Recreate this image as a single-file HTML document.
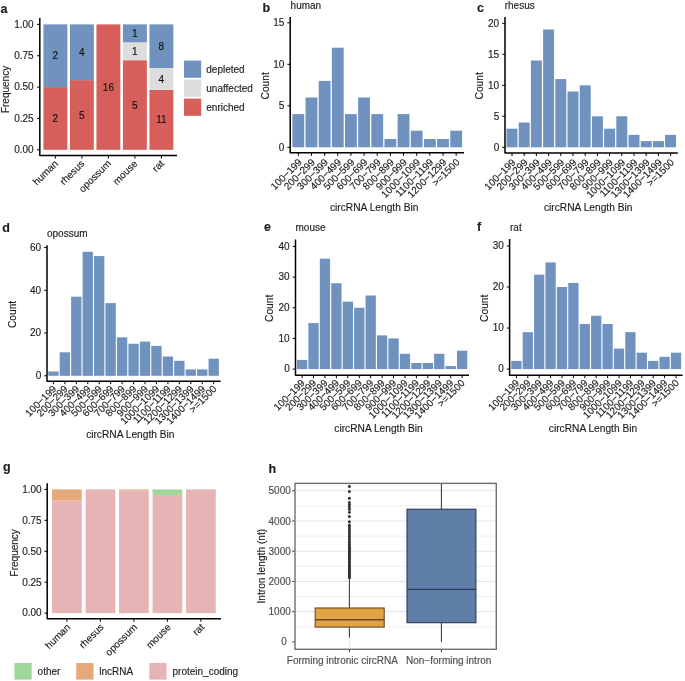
<!DOCTYPE html>
<html><head><meta charset="utf-8"><style>
html,body{margin:0;padding:0;background:#fff;width:685px;height:681px;overflow:hidden;}
svg{display:block;font-family:"Liberation Sans", sans-serif;will-change:transform;}
</style></head><body>
<svg width="685" height="681" viewBox="0 0 685 681" font-family='"Liberation Sans", sans-serif'>
<rect width="685" height="681" fill="#fff"/>
<text x="0.40" y="13.00" text-anchor="start" font-size="12.5" font-weight="bold" fill="#1e1e1e" stroke="#1e1e1e" stroke-width="0.15">a</text>
<rect x="43.45" y="87.10" width="23.90" height="62.70" fill="#d65f5c"/>
<rect x="43.45" y="24.40" width="23.90" height="62.70" fill="#6f92bf"/>
<rect x="69.95" y="80.13" width="23.90" height="69.67" fill="#d65f5c"/>
<rect x="69.95" y="24.40" width="23.90" height="55.73" fill="#6f92bf"/>
<rect x="96.45" y="24.40" width="23.90" height="125.40" fill="#d65f5c"/>
<rect x="122.95" y="60.23" width="23.90" height="89.57" fill="#d65f5c"/>
<rect x="122.95" y="42.31" width="23.90" height="17.91" fill="#dddddd"/>
<rect x="122.95" y="24.40" width="23.90" height="17.91" fill="#6f92bf"/>
<rect x="149.45" y="89.83" width="23.90" height="59.97" fill="#d65f5c"/>
<rect x="149.45" y="68.02" width="23.90" height="21.81" fill="#dddddd"/>
<rect x="149.45" y="24.40" width="23.90" height="43.62" fill="#6f92bf"/>
<text x="55.40" y="122.03" text-anchor="middle" font-size="10.0" font-weight="normal" fill="#111" stroke="#111" stroke-width="0.15">2</text>
<text x="55.40" y="59.33" text-anchor="middle" font-size="10.0" font-weight="normal" fill="#111" stroke="#111" stroke-width="0.15">2</text>
<text x="81.90" y="118.55" text-anchor="middle" font-size="10.0" font-weight="normal" fill="#111" stroke="#111" stroke-width="0.15">5</text>
<text x="81.90" y="55.85" text-anchor="middle" font-size="10.0" font-weight="normal" fill="#111" stroke="#111" stroke-width="0.15">4</text>
<text x="108.40" y="90.68" text-anchor="middle" font-size="10.0" font-weight="normal" fill="#111" stroke="#111" stroke-width="0.15">16</text>
<text x="134.90" y="108.59" text-anchor="middle" font-size="10.0" font-weight="normal" fill="#111" stroke="#111" stroke-width="0.15">5</text>
<text x="134.90" y="54.85" text-anchor="middle" font-size="10.0" font-weight="normal" fill="#111" stroke="#111" stroke-width="0.15">1</text>
<text x="134.90" y="36.94" text-anchor="middle" font-size="10.0" font-weight="normal" fill="#111" stroke="#111" stroke-width="0.15">1</text>
<text x="161.40" y="123.39" text-anchor="middle" font-size="10.0" font-weight="normal" fill="#111" stroke="#111" stroke-width="0.15">11</text>
<text x="161.40" y="82.50" text-anchor="middle" font-size="10.0" font-weight="normal" fill="#111" stroke="#111" stroke-width="0.15">4</text>
<text x="161.40" y="49.79" text-anchor="middle" font-size="10.0" font-weight="normal" fill="#111" stroke="#111" stroke-width="0.15">8</text>
<path d="M39.80,18.00 L39.80,155.60 L177.00,155.60" stroke="#000" stroke-width="1.5" fill="none" stroke-linejoin="round" stroke-linecap="butt"/>
<line x1="37.00" y1="149.80" x2="39.80" y2="149.80" stroke="#000" stroke-width="1.0" stroke-linecap="butt"/>
<text x="33.60" y="153.18" text-anchor="end" font-size="10.0" font-weight="normal" fill="#1e1e1e" stroke="#1e1e1e" stroke-width="0.15">0.00</text>
<line x1="37.00" y1="118.45" x2="39.80" y2="118.45" stroke="#000" stroke-width="1.0" stroke-linecap="butt"/>
<text x="33.60" y="121.83" text-anchor="end" font-size="10.0" font-weight="normal" fill="#1e1e1e" stroke="#1e1e1e" stroke-width="0.15">0.25</text>
<line x1="37.00" y1="87.10" x2="39.80" y2="87.10" stroke="#000" stroke-width="1.0" stroke-linecap="butt"/>
<text x="33.60" y="90.48" text-anchor="end" font-size="10.0" font-weight="normal" fill="#1e1e1e" stroke="#1e1e1e" stroke-width="0.15">0.50</text>
<line x1="37.00" y1="55.75" x2="39.80" y2="55.75" stroke="#000" stroke-width="1.0" stroke-linecap="butt"/>
<text x="33.60" y="59.13" text-anchor="end" font-size="10.0" font-weight="normal" fill="#1e1e1e" stroke="#1e1e1e" stroke-width="0.15">0.75</text>
<line x1="37.00" y1="24.40" x2="39.80" y2="24.40" stroke="#000" stroke-width="1.0" stroke-linecap="butt"/>
<text x="33.60" y="27.78" text-anchor="end" font-size="10.0" font-weight="normal" fill="#1e1e1e" stroke="#1e1e1e" stroke-width="0.15">1.00</text>
<line x1="55.40" y1="155.60" x2="55.40" y2="158.60" stroke="#000" stroke-width="1.0" stroke-linecap="butt"/>
<text transform="translate(58.60,164.20) rotate(-45)" text-anchor="end" font-size="10.0" fill="#1e1e1e" stroke="#1e1e1e" stroke-width="0.15">human</text>
<line x1="81.90" y1="155.60" x2="81.90" y2="158.60" stroke="#000" stroke-width="1.0" stroke-linecap="butt"/>
<text transform="translate(85.10,164.20) rotate(-45)" text-anchor="end" font-size="10.0" fill="#1e1e1e" stroke="#1e1e1e" stroke-width="0.15">rhesus</text>
<line x1="108.40" y1="155.60" x2="108.40" y2="158.60" stroke="#000" stroke-width="1.0" stroke-linecap="butt"/>
<text transform="translate(111.60,164.20) rotate(-45)" text-anchor="end" font-size="10.0" fill="#1e1e1e" stroke="#1e1e1e" stroke-width="0.15">opossum</text>
<line x1="134.90" y1="155.60" x2="134.90" y2="158.60" stroke="#000" stroke-width="1.0" stroke-linecap="butt"/>
<text transform="translate(138.10,164.20) rotate(-45)" text-anchor="end" font-size="10.0" fill="#1e1e1e" stroke="#1e1e1e" stroke-width="0.15">mouse</text>
<line x1="161.40" y1="155.60" x2="161.40" y2="158.60" stroke="#000" stroke-width="1.0" stroke-linecap="butt"/>
<text transform="translate(164.60,164.20) rotate(-45)" text-anchor="end" font-size="10.0" fill="#1e1e1e" stroke="#1e1e1e" stroke-width="0.15">rat</text>
<text x="8.60" y="89.50" text-anchor="middle" font-size="10.0" font-weight="normal" fill="#1e1e1e" stroke="#1e1e1e" stroke-width="0.15" transform="rotate(-90 8.60 89.50)">Frequency</text>
<rect x="184.00" y="60.60" width="17.20" height="17.20" fill="#6f92bf"/>
<text x="206.30" y="72.90" text-anchor="start" font-size="10.0" font-weight="normal" fill="#1e1e1e" stroke="#1e1e1e" stroke-width="0.15">depleted</text>
<rect x="184.00" y="79.60" width="17.20" height="17.20" fill="#dddddd"/>
<text x="206.30" y="91.90" text-anchor="start" font-size="10.0" font-weight="normal" fill="#1e1e1e" stroke="#1e1e1e" stroke-width="0.15">unaffected</text>
<rect x="184.00" y="98.60" width="17.20" height="17.20" fill="#d65f5c"/>
<text x="206.30" y="110.90" text-anchor="start" font-size="10.0" font-weight="normal" fill="#1e1e1e" stroke="#1e1e1e" stroke-width="0.15">enriched</text>
<text x="262.40" y="12.30" text-anchor="start" font-size="12.5" font-weight="bold" fill="#1e1e1e" stroke="#1e1e1e" stroke-width="0.15">b</text>
<text x="290.60" y="8.80" text-anchor="start" font-size="10.0" font-weight="normal" fill="#1e1e1e" stroke="#1e1e1e" stroke-width="0.15">human</text>
<rect x="292.38" y="114.10" width="11.84" height="33.20" fill="#6f92bf"/>
<rect x="305.54" y="97.50" width="11.84" height="49.80" fill="#6f92bf"/>
<rect x="318.69" y="80.90" width="11.84" height="66.40" fill="#6f92bf"/>
<rect x="331.85" y="47.70" width="11.84" height="99.60" fill="#6f92bf"/>
<rect x="345.00" y="114.10" width="11.84" height="33.20" fill="#6f92bf"/>
<rect x="358.16" y="97.50" width="11.84" height="49.80" fill="#6f92bf"/>
<rect x="371.31" y="114.10" width="11.84" height="33.20" fill="#6f92bf"/>
<rect x="384.47" y="139.00" width="11.84" height="8.30" fill="#6f92bf"/>
<rect x="397.62" y="114.10" width="11.84" height="33.20" fill="#6f92bf"/>
<rect x="410.78" y="130.70" width="11.84" height="16.60" fill="#6f92bf"/>
<rect x="423.93" y="139.00" width="11.84" height="8.30" fill="#6f92bf"/>
<rect x="437.09" y="139.00" width="11.84" height="8.30" fill="#6f92bf"/>
<rect x="450.24" y="130.70" width="11.84" height="16.60" fill="#6f92bf"/>
<path d="M290.20,17.00 L290.20,152.80 L464.00,152.80" stroke="#000" stroke-width="1.5" fill="none" stroke-linejoin="round" stroke-linecap="butt"/>
<line x1="287.40" y1="147.30" x2="290.20" y2="147.30" stroke="#000" stroke-width="1.0" stroke-linecap="butt"/>
<text x="284.40" y="150.68" text-anchor="end" font-size="10.0" font-weight="normal" fill="#1e1e1e" stroke="#1e1e1e" stroke-width="0.15">0</text>
<line x1="287.40" y1="105.80" x2="290.20" y2="105.80" stroke="#000" stroke-width="1.0" stroke-linecap="butt"/>
<text x="284.40" y="109.18" text-anchor="end" font-size="10.0" font-weight="normal" fill="#1e1e1e" stroke="#1e1e1e" stroke-width="0.15">5</text>
<line x1="287.40" y1="64.30" x2="290.20" y2="64.30" stroke="#000" stroke-width="1.0" stroke-linecap="butt"/>
<text x="284.40" y="67.68" text-anchor="end" font-size="10.0" font-weight="normal" fill="#1e1e1e" stroke="#1e1e1e" stroke-width="0.15">10</text>
<line x1="287.40" y1="22.80" x2="290.20" y2="22.80" stroke="#000" stroke-width="1.0" stroke-linecap="butt"/>
<text x="284.40" y="26.18" text-anchor="end" font-size="10.0" font-weight="normal" fill="#1e1e1e" stroke="#1e1e1e" stroke-width="0.15">15</text>
<line x1="298.30" y1="152.80" x2="298.30" y2="155.80" stroke="#000" stroke-width="1.0" stroke-linecap="butt"/>
<text transform="translate(302.50,162.80) rotate(-45)" text-anchor="end" font-size="10.0" fill="#1e1e1e" stroke="#1e1e1e" stroke-width="0.15">100−199</text>
<line x1="311.45" y1="152.80" x2="311.45" y2="155.80" stroke="#000" stroke-width="1.0" stroke-linecap="butt"/>
<text transform="translate(315.65,162.80) rotate(-45)" text-anchor="end" font-size="10.0" fill="#1e1e1e" stroke="#1e1e1e" stroke-width="0.15">200−299</text>
<line x1="324.61" y1="152.80" x2="324.61" y2="155.80" stroke="#000" stroke-width="1.0" stroke-linecap="butt"/>
<text transform="translate(328.81,162.80) rotate(-45)" text-anchor="end" font-size="10.0" fill="#1e1e1e" stroke="#1e1e1e" stroke-width="0.15">300−399</text>
<line x1="337.76" y1="152.80" x2="337.76" y2="155.80" stroke="#000" stroke-width="1.0" stroke-linecap="butt"/>
<text transform="translate(341.96,162.80) rotate(-45)" text-anchor="end" font-size="10.0" fill="#1e1e1e" stroke="#1e1e1e" stroke-width="0.15">400−499</text>
<line x1="350.92" y1="152.80" x2="350.92" y2="155.80" stroke="#000" stroke-width="1.0" stroke-linecap="butt"/>
<text transform="translate(355.12,162.80) rotate(-45)" text-anchor="end" font-size="10.0" fill="#1e1e1e" stroke="#1e1e1e" stroke-width="0.15">500−599</text>
<line x1="364.07" y1="152.80" x2="364.07" y2="155.80" stroke="#000" stroke-width="1.0" stroke-linecap="butt"/>
<text transform="translate(368.27,162.80) rotate(-45)" text-anchor="end" font-size="10.0" fill="#1e1e1e" stroke="#1e1e1e" stroke-width="0.15">600−699</text>
<line x1="377.23" y1="152.80" x2="377.23" y2="155.80" stroke="#000" stroke-width="1.0" stroke-linecap="butt"/>
<text transform="translate(381.43,162.80) rotate(-45)" text-anchor="end" font-size="10.0" fill="#1e1e1e" stroke="#1e1e1e" stroke-width="0.15">700−799</text>
<line x1="390.38" y1="152.80" x2="390.38" y2="155.80" stroke="#000" stroke-width="1.0" stroke-linecap="butt"/>
<text transform="translate(394.58,162.80) rotate(-45)" text-anchor="end" font-size="10.0" fill="#1e1e1e" stroke="#1e1e1e" stroke-width="0.15">800−899</text>
<line x1="403.54" y1="152.80" x2="403.54" y2="155.80" stroke="#000" stroke-width="1.0" stroke-linecap="butt"/>
<text transform="translate(407.74,162.80) rotate(-45)" text-anchor="end" font-size="10.0" fill="#1e1e1e" stroke="#1e1e1e" stroke-width="0.15">900−999</text>
<line x1="416.69" y1="152.80" x2="416.69" y2="155.80" stroke="#000" stroke-width="1.0" stroke-linecap="butt"/>
<text transform="translate(420.89,162.80) rotate(-45)" text-anchor="end" font-size="10.0" fill="#1e1e1e" stroke="#1e1e1e" stroke-width="0.15">1000−1099</text>
<line x1="429.85" y1="152.80" x2="429.85" y2="155.80" stroke="#000" stroke-width="1.0" stroke-linecap="butt"/>
<text transform="translate(434.05,162.80) rotate(-45)" text-anchor="end" font-size="10.0" fill="#1e1e1e" stroke="#1e1e1e" stroke-width="0.15">1100−1199</text>
<line x1="443.00" y1="152.80" x2="443.00" y2="155.80" stroke="#000" stroke-width="1.0" stroke-linecap="butt"/>
<text transform="translate(447.20,162.80) rotate(-45)" text-anchor="end" font-size="10.0" fill="#1e1e1e" stroke="#1e1e1e" stroke-width="0.15">1200−1299</text>
<line x1="456.16" y1="152.80" x2="456.16" y2="155.80" stroke="#000" stroke-width="1.0" stroke-linecap="butt"/>
<text transform="translate(460.36,162.80) rotate(-45)" text-anchor="end" font-size="10.0" fill="#1e1e1e" stroke="#1e1e1e" stroke-width="0.15">&gt;=1500</text>
<text x="268.90" y="85.80" text-anchor="middle" font-size="10.2" font-weight="normal" fill="#1e1e1e" stroke="#1e1e1e" stroke-width="0.15" transform="rotate(-90 268.90 85.80)">Count</text>
<text x="374.20" y="211.20" text-anchor="middle" font-size="10.2" font-weight="normal" fill="#1e1e1e" stroke="#1e1e1e" stroke-width="0.15">circRNA Length Bin</text>
<text x="477.00" y="12.30" text-anchor="start" font-size="12.5" font-weight="bold" fill="#1e1e1e" stroke="#1e1e1e" stroke-width="0.15">c</text>
<text x="504.70" y="8.80" text-anchor="start" font-size="10.0" font-weight="normal" fill="#1e1e1e" stroke="#1e1e1e" stroke-width="0.15">rhesus</text>
<rect x="506.51" y="128.70" width="10.98" height="18.60" fill="#6f92bf"/>
<rect x="518.71" y="122.50" width="10.98" height="24.80" fill="#6f92bf"/>
<rect x="530.91" y="60.50" width="10.98" height="86.80" fill="#6f92bf"/>
<rect x="543.11" y="29.50" width="10.98" height="117.80" fill="#6f92bf"/>
<rect x="555.31" y="79.10" width="10.98" height="68.20" fill="#6f92bf"/>
<rect x="567.51" y="91.50" width="10.98" height="55.80" fill="#6f92bf"/>
<rect x="579.71" y="85.30" width="10.98" height="62.00" fill="#6f92bf"/>
<rect x="591.91" y="116.30" width="10.98" height="31.00" fill="#6f92bf"/>
<rect x="604.11" y="128.70" width="10.98" height="18.60" fill="#6f92bf"/>
<rect x="616.31" y="116.30" width="10.98" height="31.00" fill="#6f92bf"/>
<rect x="628.51" y="134.90" width="10.98" height="12.40" fill="#6f92bf"/>
<rect x="640.71" y="141.10" width="10.98" height="6.20" fill="#6f92bf"/>
<rect x="652.91" y="141.10" width="10.98" height="6.20" fill="#6f92bf"/>
<rect x="665.11" y="134.90" width="10.98" height="12.40" fill="#6f92bf"/>
<path d="M505.00,17.00 L505.00,153.00 L677.80,153.00" stroke="#000" stroke-width="1.5" fill="none" stroke-linejoin="round" stroke-linecap="butt"/>
<line x1="502.20" y1="147.30" x2="505.00" y2="147.30" stroke="#000" stroke-width="1.0" stroke-linecap="butt"/>
<text x="499.20" y="150.68" text-anchor="end" font-size="10.0" font-weight="normal" fill="#1e1e1e" stroke="#1e1e1e" stroke-width="0.15">0</text>
<line x1="502.20" y1="116.30" x2="505.00" y2="116.30" stroke="#000" stroke-width="1.0" stroke-linecap="butt"/>
<text x="499.20" y="119.68" text-anchor="end" font-size="10.0" font-weight="normal" fill="#1e1e1e" stroke="#1e1e1e" stroke-width="0.15">5</text>
<line x1="502.20" y1="85.30" x2="505.00" y2="85.30" stroke="#000" stroke-width="1.0" stroke-linecap="butt"/>
<text x="499.20" y="88.68" text-anchor="end" font-size="10.0" font-weight="normal" fill="#1e1e1e" stroke="#1e1e1e" stroke-width="0.15">10</text>
<line x1="502.20" y1="54.30" x2="505.00" y2="54.30" stroke="#000" stroke-width="1.0" stroke-linecap="butt"/>
<text x="499.20" y="57.68" text-anchor="end" font-size="10.0" font-weight="normal" fill="#1e1e1e" stroke="#1e1e1e" stroke-width="0.15">15</text>
<line x1="502.20" y1="23.30" x2="505.00" y2="23.30" stroke="#000" stroke-width="1.0" stroke-linecap="butt"/>
<text x="499.20" y="26.68" text-anchor="end" font-size="10.0" font-weight="normal" fill="#1e1e1e" stroke="#1e1e1e" stroke-width="0.15">20</text>
<line x1="512.00" y1="153.00" x2="512.00" y2="156.00" stroke="#000" stroke-width="1.0" stroke-linecap="butt"/>
<text transform="translate(516.20,163.00) rotate(-45)" text-anchor="end" font-size="10.0" fill="#1e1e1e" stroke="#1e1e1e" stroke-width="0.15">100−199</text>
<line x1="524.20" y1="153.00" x2="524.20" y2="156.00" stroke="#000" stroke-width="1.0" stroke-linecap="butt"/>
<text transform="translate(528.40,163.00) rotate(-45)" text-anchor="end" font-size="10.0" fill="#1e1e1e" stroke="#1e1e1e" stroke-width="0.15">200−299</text>
<line x1="536.40" y1="153.00" x2="536.40" y2="156.00" stroke="#000" stroke-width="1.0" stroke-linecap="butt"/>
<text transform="translate(540.60,163.00) rotate(-45)" text-anchor="end" font-size="10.0" fill="#1e1e1e" stroke="#1e1e1e" stroke-width="0.15">300−399</text>
<line x1="548.60" y1="153.00" x2="548.60" y2="156.00" stroke="#000" stroke-width="1.0" stroke-linecap="butt"/>
<text transform="translate(552.80,163.00) rotate(-45)" text-anchor="end" font-size="10.0" fill="#1e1e1e" stroke="#1e1e1e" stroke-width="0.15">400−499</text>
<line x1="560.80" y1="153.00" x2="560.80" y2="156.00" stroke="#000" stroke-width="1.0" stroke-linecap="butt"/>
<text transform="translate(565.00,163.00) rotate(-45)" text-anchor="end" font-size="10.0" fill="#1e1e1e" stroke="#1e1e1e" stroke-width="0.15">500−599</text>
<line x1="573.00" y1="153.00" x2="573.00" y2="156.00" stroke="#000" stroke-width="1.0" stroke-linecap="butt"/>
<text transform="translate(577.20,163.00) rotate(-45)" text-anchor="end" font-size="10.0" fill="#1e1e1e" stroke="#1e1e1e" stroke-width="0.15">600−699</text>
<line x1="585.20" y1="153.00" x2="585.20" y2="156.00" stroke="#000" stroke-width="1.0" stroke-linecap="butt"/>
<text transform="translate(589.40,163.00) rotate(-45)" text-anchor="end" font-size="10.0" fill="#1e1e1e" stroke="#1e1e1e" stroke-width="0.15">700−799</text>
<line x1="597.40" y1="153.00" x2="597.40" y2="156.00" stroke="#000" stroke-width="1.0" stroke-linecap="butt"/>
<text transform="translate(601.60,163.00) rotate(-45)" text-anchor="end" font-size="10.0" fill="#1e1e1e" stroke="#1e1e1e" stroke-width="0.15">800−899</text>
<line x1="609.60" y1="153.00" x2="609.60" y2="156.00" stroke="#000" stroke-width="1.0" stroke-linecap="butt"/>
<text transform="translate(613.80,163.00) rotate(-45)" text-anchor="end" font-size="10.0" fill="#1e1e1e" stroke="#1e1e1e" stroke-width="0.15">900−999</text>
<line x1="621.80" y1="153.00" x2="621.80" y2="156.00" stroke="#000" stroke-width="1.0" stroke-linecap="butt"/>
<text transform="translate(626.00,163.00) rotate(-45)" text-anchor="end" font-size="10.0" fill="#1e1e1e" stroke="#1e1e1e" stroke-width="0.15">1000−1099</text>
<line x1="634.00" y1="153.00" x2="634.00" y2="156.00" stroke="#000" stroke-width="1.0" stroke-linecap="butt"/>
<text transform="translate(638.20,163.00) rotate(-45)" text-anchor="end" font-size="10.0" fill="#1e1e1e" stroke="#1e1e1e" stroke-width="0.15">1100−1199</text>
<line x1="646.20" y1="153.00" x2="646.20" y2="156.00" stroke="#000" stroke-width="1.0" stroke-linecap="butt"/>
<text transform="translate(650.40,163.00) rotate(-45)" text-anchor="end" font-size="10.0" fill="#1e1e1e" stroke="#1e1e1e" stroke-width="0.15">1300−1399</text>
<line x1="658.40" y1="153.00" x2="658.40" y2="156.00" stroke="#000" stroke-width="1.0" stroke-linecap="butt"/>
<text transform="translate(662.60,163.00) rotate(-45)" text-anchor="end" font-size="10.0" fill="#1e1e1e" stroke="#1e1e1e" stroke-width="0.15">1400−1499</text>
<line x1="670.60" y1="153.00" x2="670.60" y2="156.00" stroke="#000" stroke-width="1.0" stroke-linecap="butt"/>
<text transform="translate(674.80,163.00) rotate(-45)" text-anchor="end" font-size="10.0" fill="#1e1e1e" stroke="#1e1e1e" stroke-width="0.15">&gt;=1500</text>
<text x="483.20" y="85.85" text-anchor="middle" font-size="10.2" font-weight="normal" fill="#1e1e1e" stroke="#1e1e1e" stroke-width="0.15" transform="rotate(-90 483.20 85.85)">Count</text>
<text x="588.20" y="211.20" text-anchor="middle" font-size="10.2" font-weight="normal" fill="#1e1e1e" stroke="#1e1e1e" stroke-width="0.15">circRNA Length Bin</text>
<text x="2.20" y="231.50" text-anchor="start" font-size="12.5" font-weight="bold" fill="#1e1e1e" stroke="#1e1e1e" stroke-width="0.15">d</text>
<text x="47.00" y="237.00" text-anchor="start" font-size="10.0" font-weight="normal" fill="#1e1e1e" stroke="#1e1e1e" stroke-width="0.15">opossum</text>
<rect x="48.25" y="371.52" width="10.30" height="4.28" fill="#6f92bf"/>
<rect x="59.70" y="352.28" width="10.30" height="23.52" fill="#6f92bf"/>
<rect x="71.15" y="296.69" width="10.30" height="79.11" fill="#6f92bf"/>
<rect x="82.60" y="251.80" width="10.30" height="124.00" fill="#6f92bf"/>
<rect x="94.05" y="256.07" width="10.30" height="119.73" fill="#6f92bf"/>
<rect x="105.50" y="303.11" width="10.30" height="72.69" fill="#6f92bf"/>
<rect x="116.95" y="337.32" width="10.30" height="38.48" fill="#6f92bf"/>
<rect x="128.40" y="343.73" width="10.30" height="32.07" fill="#6f92bf"/>
<rect x="139.85" y="341.59" width="10.30" height="34.21" fill="#6f92bf"/>
<rect x="151.30" y="345.87" width="10.30" height="29.93" fill="#6f92bf"/>
<rect x="162.75" y="356.56" width="10.30" height="19.24" fill="#6f92bf"/>
<rect x="174.20" y="360.83" width="10.30" height="14.97" fill="#6f92bf"/>
<rect x="185.65" y="369.39" width="10.30" height="6.41" fill="#6f92bf"/>
<rect x="197.10" y="369.39" width="10.30" height="6.41" fill="#6f92bf"/>
<rect x="208.55" y="358.70" width="10.30" height="17.10" fill="#6f92bf"/>
<path d="M47.00,245.30 L47.00,381.20 L220.60,381.20" stroke="#000" stroke-width="1.5" fill="none" stroke-linejoin="round" stroke-linecap="butt"/>
<line x1="44.20" y1="375.80" x2="47.00" y2="375.80" stroke="#000" stroke-width="1.0" stroke-linecap="butt"/>
<text x="41.20" y="379.18" text-anchor="end" font-size="10.0" font-weight="normal" fill="#1e1e1e" stroke="#1e1e1e" stroke-width="0.15">0</text>
<line x1="44.20" y1="333.04" x2="47.00" y2="333.04" stroke="#000" stroke-width="1.0" stroke-linecap="butt"/>
<text x="41.20" y="336.42" text-anchor="end" font-size="10.0" font-weight="normal" fill="#1e1e1e" stroke="#1e1e1e" stroke-width="0.15">20</text>
<line x1="44.20" y1="290.28" x2="47.00" y2="290.28" stroke="#000" stroke-width="1.0" stroke-linecap="butt"/>
<text x="41.20" y="293.66" text-anchor="end" font-size="10.0" font-weight="normal" fill="#1e1e1e" stroke="#1e1e1e" stroke-width="0.15">40</text>
<line x1="44.20" y1="247.52" x2="47.00" y2="247.52" stroke="#000" stroke-width="1.0" stroke-linecap="butt"/>
<text x="41.20" y="250.90" text-anchor="end" font-size="10.0" font-weight="normal" fill="#1e1e1e" stroke="#1e1e1e" stroke-width="0.15">60</text>
<line x1="53.40" y1="381.20" x2="53.40" y2="384.20" stroke="#000" stroke-width="1.0" stroke-linecap="butt"/>
<text transform="translate(57.00,389.50) rotate(-45)" text-anchor="end" font-size="10.0" fill="#1e1e1e" stroke="#1e1e1e" stroke-width="0.15">100−199</text>
<line x1="64.85" y1="381.20" x2="64.85" y2="384.20" stroke="#000" stroke-width="1.0" stroke-linecap="butt"/>
<text transform="translate(68.45,389.50) rotate(-45)" text-anchor="end" font-size="10.0" fill="#1e1e1e" stroke="#1e1e1e" stroke-width="0.15">200−299</text>
<line x1="76.30" y1="381.20" x2="76.30" y2="384.20" stroke="#000" stroke-width="1.0" stroke-linecap="butt"/>
<text transform="translate(79.90,389.50) rotate(-45)" text-anchor="end" font-size="10.0" fill="#1e1e1e" stroke="#1e1e1e" stroke-width="0.15">300−399</text>
<line x1="87.75" y1="381.20" x2="87.75" y2="384.20" stroke="#000" stroke-width="1.0" stroke-linecap="butt"/>
<text transform="translate(91.35,389.50) rotate(-45)" text-anchor="end" font-size="10.0" fill="#1e1e1e" stroke="#1e1e1e" stroke-width="0.15">400−499</text>
<line x1="99.20" y1="381.20" x2="99.20" y2="384.20" stroke="#000" stroke-width="1.0" stroke-linecap="butt"/>
<text transform="translate(102.80,389.50) rotate(-45)" text-anchor="end" font-size="10.0" fill="#1e1e1e" stroke="#1e1e1e" stroke-width="0.15">500−599</text>
<line x1="110.65" y1="381.20" x2="110.65" y2="384.20" stroke="#000" stroke-width="1.0" stroke-linecap="butt"/>
<text transform="translate(114.25,389.50) rotate(-45)" text-anchor="end" font-size="10.0" fill="#1e1e1e" stroke="#1e1e1e" stroke-width="0.15">600−699</text>
<line x1="122.10" y1="381.20" x2="122.10" y2="384.20" stroke="#000" stroke-width="1.0" stroke-linecap="butt"/>
<text transform="translate(125.70,389.50) rotate(-45)" text-anchor="end" font-size="10.0" fill="#1e1e1e" stroke="#1e1e1e" stroke-width="0.15">700−799</text>
<line x1="133.55" y1="381.20" x2="133.55" y2="384.20" stroke="#000" stroke-width="1.0" stroke-linecap="butt"/>
<text transform="translate(137.15,389.50) rotate(-45)" text-anchor="end" font-size="10.0" fill="#1e1e1e" stroke="#1e1e1e" stroke-width="0.15">800−899</text>
<line x1="145.00" y1="381.20" x2="145.00" y2="384.20" stroke="#000" stroke-width="1.0" stroke-linecap="butt"/>
<text transform="translate(148.60,389.50) rotate(-45)" text-anchor="end" font-size="10.0" fill="#1e1e1e" stroke="#1e1e1e" stroke-width="0.15">900−999</text>
<line x1="156.45" y1="381.20" x2="156.45" y2="384.20" stroke="#000" stroke-width="1.0" stroke-linecap="butt"/>
<text transform="translate(160.05,389.50) rotate(-45)" text-anchor="end" font-size="10.0" fill="#1e1e1e" stroke="#1e1e1e" stroke-width="0.15">1000−1099</text>
<line x1="167.90" y1="381.20" x2="167.90" y2="384.20" stroke="#000" stroke-width="1.0" stroke-linecap="butt"/>
<text transform="translate(171.50,389.50) rotate(-45)" text-anchor="end" font-size="10.0" fill="#1e1e1e" stroke="#1e1e1e" stroke-width="0.15">1100−1199</text>
<line x1="179.35" y1="381.20" x2="179.35" y2="384.20" stroke="#000" stroke-width="1.0" stroke-linecap="butt"/>
<text transform="translate(182.95,389.50) rotate(-45)" text-anchor="end" font-size="10.0" fill="#1e1e1e" stroke="#1e1e1e" stroke-width="0.15">1200−1299</text>
<line x1="190.80" y1="381.20" x2="190.80" y2="384.20" stroke="#000" stroke-width="1.0" stroke-linecap="butt"/>
<text transform="translate(194.40,389.50) rotate(-45)" text-anchor="end" font-size="10.0" fill="#1e1e1e" stroke="#1e1e1e" stroke-width="0.15">1300−1399</text>
<line x1="202.25" y1="381.20" x2="202.25" y2="384.20" stroke="#000" stroke-width="1.0" stroke-linecap="butt"/>
<text transform="translate(205.85,389.50) rotate(-45)" text-anchor="end" font-size="10.0" fill="#1e1e1e" stroke="#1e1e1e" stroke-width="0.15">1400−1499</text>
<line x1="213.70" y1="381.20" x2="213.70" y2="384.20" stroke="#000" stroke-width="1.0" stroke-linecap="butt"/>
<text transform="translate(217.30,389.50) rotate(-45)" text-anchor="end" font-size="10.0" fill="#1e1e1e" stroke="#1e1e1e" stroke-width="0.15">&gt;=1500</text>
<text x="15.80" y="314.40" text-anchor="middle" font-size="10.2" font-weight="normal" fill="#1e1e1e" stroke="#1e1e1e" stroke-width="0.15" transform="rotate(-90 15.80 314.40)">Count</text>
<text x="130.30" y="438.20" text-anchor="middle" font-size="10.2" font-weight="normal" fill="#1e1e1e" stroke="#1e1e1e" stroke-width="0.15">circRNA Length Bin</text>
<text x="264.00" y="231.40" text-anchor="start" font-size="12.5" font-weight="bold" fill="#1e1e1e" stroke="#1e1e1e" stroke-width="0.15">e</text>
<text x="295.50" y="231.10" text-anchor="start" font-size="10.0" font-weight="normal" fill="#1e1e1e" stroke="#1e1e1e" stroke-width="0.15">mouse</text>
<rect x="296.96" y="359.90" width="10.29" height="9.20" fill="#6f92bf"/>
<rect x="308.39" y="323.10" width="10.29" height="46.00" fill="#6f92bf"/>
<rect x="319.82" y="258.69" width="10.29" height="110.41" fill="#6f92bf"/>
<rect x="331.25" y="283.22" width="10.29" height="85.88" fill="#6f92bf"/>
<rect x="342.68" y="301.63" width="10.29" height="67.47" fill="#6f92bf"/>
<rect x="354.11" y="307.76" width="10.29" height="61.34" fill="#6f92bf"/>
<rect x="365.54" y="295.49" width="10.29" height="73.61" fill="#6f92bf"/>
<rect x="376.97" y="335.36" width="10.29" height="33.74" fill="#6f92bf"/>
<rect x="388.40" y="338.43" width="10.29" height="30.67" fill="#6f92bf"/>
<rect x="399.83" y="353.77" width="10.29" height="15.33" fill="#6f92bf"/>
<rect x="411.26" y="362.97" width="10.29" height="6.13" fill="#6f92bf"/>
<rect x="422.69" y="362.97" width="10.29" height="6.13" fill="#6f92bf"/>
<rect x="434.12" y="353.77" width="10.29" height="15.33" fill="#6f92bf"/>
<rect x="445.55" y="366.03" width="10.29" height="3.07" fill="#6f92bf"/>
<rect x="456.98" y="350.70" width="10.29" height="18.40" fill="#6f92bf"/>
<path d="M295.50,239.40 L295.50,375.20 L469.00,375.20" stroke="#000" stroke-width="1.5" fill="none" stroke-linejoin="round" stroke-linecap="butt"/>
<line x1="292.70" y1="369.10" x2="295.50" y2="369.10" stroke="#000" stroke-width="1.0" stroke-linecap="butt"/>
<text x="289.70" y="372.48" text-anchor="end" font-size="10.0" font-weight="normal" fill="#1e1e1e" stroke="#1e1e1e" stroke-width="0.15">0</text>
<line x1="292.70" y1="338.43" x2="295.50" y2="338.43" stroke="#000" stroke-width="1.0" stroke-linecap="butt"/>
<text x="289.70" y="341.81" text-anchor="end" font-size="10.0" font-weight="normal" fill="#1e1e1e" stroke="#1e1e1e" stroke-width="0.15">10</text>
<line x1="292.70" y1="307.76" x2="295.50" y2="307.76" stroke="#000" stroke-width="1.0" stroke-linecap="butt"/>
<text x="289.70" y="311.14" text-anchor="end" font-size="10.0" font-weight="normal" fill="#1e1e1e" stroke="#1e1e1e" stroke-width="0.15">20</text>
<line x1="292.70" y1="277.09" x2="295.50" y2="277.09" stroke="#000" stroke-width="1.0" stroke-linecap="butt"/>
<text x="289.70" y="280.47" text-anchor="end" font-size="10.0" font-weight="normal" fill="#1e1e1e" stroke="#1e1e1e" stroke-width="0.15">30</text>
<line x1="292.70" y1="246.42" x2="295.50" y2="246.42" stroke="#000" stroke-width="1.0" stroke-linecap="butt"/>
<text x="289.70" y="249.80" text-anchor="end" font-size="10.0" font-weight="normal" fill="#1e1e1e" stroke="#1e1e1e" stroke-width="0.15">40</text>
<line x1="302.10" y1="375.20" x2="302.10" y2="378.20" stroke="#000" stroke-width="1.0" stroke-linecap="butt"/>
<text transform="translate(305.50,383.60) rotate(-45)" text-anchor="end" font-size="10.0" fill="#1e1e1e" stroke="#1e1e1e" stroke-width="0.15">100−199</text>
<line x1="313.53" y1="375.20" x2="313.53" y2="378.20" stroke="#000" stroke-width="1.0" stroke-linecap="butt"/>
<text transform="translate(316.93,383.60) rotate(-45)" text-anchor="end" font-size="10.0" fill="#1e1e1e" stroke="#1e1e1e" stroke-width="0.15">200−299</text>
<line x1="324.96" y1="375.20" x2="324.96" y2="378.20" stroke="#000" stroke-width="1.0" stroke-linecap="butt"/>
<text transform="translate(328.36,383.60) rotate(-45)" text-anchor="end" font-size="10.0" fill="#1e1e1e" stroke="#1e1e1e" stroke-width="0.15">300−399</text>
<line x1="336.39" y1="375.20" x2="336.39" y2="378.20" stroke="#000" stroke-width="1.0" stroke-linecap="butt"/>
<text transform="translate(339.79,383.60) rotate(-45)" text-anchor="end" font-size="10.0" fill="#1e1e1e" stroke="#1e1e1e" stroke-width="0.15">400−499</text>
<line x1="347.82" y1="375.20" x2="347.82" y2="378.20" stroke="#000" stroke-width="1.0" stroke-linecap="butt"/>
<text transform="translate(351.22,383.60) rotate(-45)" text-anchor="end" font-size="10.0" fill="#1e1e1e" stroke="#1e1e1e" stroke-width="0.15">500−599</text>
<line x1="359.25" y1="375.20" x2="359.25" y2="378.20" stroke="#000" stroke-width="1.0" stroke-linecap="butt"/>
<text transform="translate(362.65,383.60) rotate(-45)" text-anchor="end" font-size="10.0" fill="#1e1e1e" stroke="#1e1e1e" stroke-width="0.15">600−699</text>
<line x1="370.68" y1="375.20" x2="370.68" y2="378.20" stroke="#000" stroke-width="1.0" stroke-linecap="butt"/>
<text transform="translate(374.08,383.60) rotate(-45)" text-anchor="end" font-size="10.0" fill="#1e1e1e" stroke="#1e1e1e" stroke-width="0.15">700−799</text>
<line x1="382.11" y1="375.20" x2="382.11" y2="378.20" stroke="#000" stroke-width="1.0" stroke-linecap="butt"/>
<text transform="translate(385.51,383.60) rotate(-45)" text-anchor="end" font-size="10.0" fill="#1e1e1e" stroke="#1e1e1e" stroke-width="0.15">800−899</text>
<line x1="393.54" y1="375.20" x2="393.54" y2="378.20" stroke="#000" stroke-width="1.0" stroke-linecap="butt"/>
<text transform="translate(396.94,383.60) rotate(-45)" text-anchor="end" font-size="10.0" fill="#1e1e1e" stroke="#1e1e1e" stroke-width="0.15">900−999</text>
<line x1="404.97" y1="375.20" x2="404.97" y2="378.20" stroke="#000" stroke-width="1.0" stroke-linecap="butt"/>
<text transform="translate(408.37,383.60) rotate(-45)" text-anchor="end" font-size="10.0" fill="#1e1e1e" stroke="#1e1e1e" stroke-width="0.15">1000−1099</text>
<line x1="416.40" y1="375.20" x2="416.40" y2="378.20" stroke="#000" stroke-width="1.0" stroke-linecap="butt"/>
<text transform="translate(419.80,383.60) rotate(-45)" text-anchor="end" font-size="10.0" fill="#1e1e1e" stroke="#1e1e1e" stroke-width="0.15">1100−1199</text>
<line x1="427.83" y1="375.20" x2="427.83" y2="378.20" stroke="#000" stroke-width="1.0" stroke-linecap="butt"/>
<text transform="translate(431.23,383.60) rotate(-45)" text-anchor="end" font-size="10.0" fill="#1e1e1e" stroke="#1e1e1e" stroke-width="0.15">1200−1299</text>
<line x1="439.26" y1="375.20" x2="439.26" y2="378.20" stroke="#000" stroke-width="1.0" stroke-linecap="butt"/>
<text transform="translate(442.66,383.60) rotate(-45)" text-anchor="end" font-size="10.0" fill="#1e1e1e" stroke="#1e1e1e" stroke-width="0.15">1300−1399</text>
<line x1="450.69" y1="375.20" x2="450.69" y2="378.20" stroke="#000" stroke-width="1.0" stroke-linecap="butt"/>
<text transform="translate(454.09,383.60) rotate(-45)" text-anchor="end" font-size="10.0" fill="#1e1e1e" stroke="#1e1e1e" stroke-width="0.15">1400−1499</text>
<line x1="462.12" y1="375.20" x2="462.12" y2="378.20" stroke="#000" stroke-width="1.0" stroke-linecap="butt"/>
<text transform="translate(465.52,383.60) rotate(-45)" text-anchor="end" font-size="10.0" fill="#1e1e1e" stroke="#1e1e1e" stroke-width="0.15">&gt;=1500</text>
<text x="273.40" y="308.30" text-anchor="middle" font-size="10.2" font-weight="normal" fill="#1e1e1e" stroke="#1e1e1e" stroke-width="0.15" transform="rotate(-90 273.40 308.30)">Count</text>
<text x="378.50" y="432.10" text-anchor="middle" font-size="10.2" font-weight="normal" fill="#1e1e1e" stroke="#1e1e1e" stroke-width="0.15">circRNA Length Bin</text>
<text x="477.00" y="231.40" text-anchor="start" font-size="12.5" font-weight="bold" fill="#1e1e1e" stroke="#1e1e1e" stroke-width="0.15">f</text>
<text x="510.00" y="231.10" text-anchor="start" font-size="10.0" font-weight="normal" fill="#1e1e1e" stroke="#1e1e1e" stroke-width="0.15">rat</text>
<rect x="511.27" y="360.89" width="10.26" height="8.21" fill="#6f92bf"/>
<rect x="522.67" y="332.16" width="10.26" height="36.94" fill="#6f92bf"/>
<rect x="534.07" y="274.69" width="10.26" height="94.42" fill="#6f92bf"/>
<rect x="545.47" y="262.37" width="10.26" height="106.73" fill="#6f92bf"/>
<rect x="556.87" y="287.00" width="10.26" height="82.10" fill="#6f92bf"/>
<rect x="568.27" y="282.89" width="10.26" height="86.21" fill="#6f92bf"/>
<rect x="579.67" y="323.95" width="10.26" height="45.15" fill="#6f92bf"/>
<rect x="591.07" y="315.74" width="10.26" height="53.37" fill="#6f92bf"/>
<rect x="602.47" y="323.95" width="10.26" height="45.15" fill="#6f92bf"/>
<rect x="613.87" y="348.58" width="10.26" height="20.52" fill="#6f92bf"/>
<rect x="625.27" y="332.16" width="10.26" height="36.94" fill="#6f92bf"/>
<rect x="636.67" y="352.68" width="10.26" height="16.42" fill="#6f92bf"/>
<rect x="648.07" y="360.89" width="10.26" height="8.21" fill="#6f92bf"/>
<rect x="659.47" y="356.79" width="10.26" height="12.31" fill="#6f92bf"/>
<rect x="670.87" y="352.68" width="10.26" height="16.42" fill="#6f92bf"/>
<path d="M509.60,239.10 L509.60,375.20 L682.70,375.20" stroke="#000" stroke-width="1.5" fill="none" stroke-linejoin="round" stroke-linecap="butt"/>
<line x1="506.80" y1="369.10" x2="509.60" y2="369.10" stroke="#000" stroke-width="1.0" stroke-linecap="butt"/>
<text x="503.80" y="372.48" text-anchor="end" font-size="10.0" font-weight="normal" fill="#1e1e1e" stroke="#1e1e1e" stroke-width="0.15">0</text>
<line x1="506.80" y1="328.05" x2="509.60" y2="328.05" stroke="#000" stroke-width="1.0" stroke-linecap="butt"/>
<text x="503.80" y="331.43" text-anchor="end" font-size="10.0" font-weight="normal" fill="#1e1e1e" stroke="#1e1e1e" stroke-width="0.15">10</text>
<line x1="506.80" y1="287.00" x2="509.60" y2="287.00" stroke="#000" stroke-width="1.0" stroke-linecap="butt"/>
<text x="503.80" y="290.38" text-anchor="end" font-size="10.0" font-weight="normal" fill="#1e1e1e" stroke="#1e1e1e" stroke-width="0.15">20</text>
<line x1="506.80" y1="245.95" x2="509.60" y2="245.95" stroke="#000" stroke-width="1.0" stroke-linecap="butt"/>
<text x="503.80" y="249.33" text-anchor="end" font-size="10.0" font-weight="normal" fill="#1e1e1e" stroke="#1e1e1e" stroke-width="0.15">30</text>
<line x1="516.40" y1="375.20" x2="516.40" y2="378.20" stroke="#000" stroke-width="1.0" stroke-linecap="butt"/>
<text transform="translate(520.00,383.60) rotate(-45)" text-anchor="end" font-size="10.0" fill="#1e1e1e" stroke="#1e1e1e" stroke-width="0.15">100−199</text>
<line x1="527.80" y1="375.20" x2="527.80" y2="378.20" stroke="#000" stroke-width="1.0" stroke-linecap="butt"/>
<text transform="translate(531.40,383.60) rotate(-45)" text-anchor="end" font-size="10.0" fill="#1e1e1e" stroke="#1e1e1e" stroke-width="0.15">200−299</text>
<line x1="539.20" y1="375.20" x2="539.20" y2="378.20" stroke="#000" stroke-width="1.0" stroke-linecap="butt"/>
<text transform="translate(542.80,383.60) rotate(-45)" text-anchor="end" font-size="10.0" fill="#1e1e1e" stroke="#1e1e1e" stroke-width="0.15">300−399</text>
<line x1="550.60" y1="375.20" x2="550.60" y2="378.20" stroke="#000" stroke-width="1.0" stroke-linecap="butt"/>
<text transform="translate(554.20,383.60) rotate(-45)" text-anchor="end" font-size="10.0" fill="#1e1e1e" stroke="#1e1e1e" stroke-width="0.15">400−499</text>
<line x1="562.00" y1="375.20" x2="562.00" y2="378.20" stroke="#000" stroke-width="1.0" stroke-linecap="butt"/>
<text transform="translate(565.60,383.60) rotate(-45)" text-anchor="end" font-size="10.0" fill="#1e1e1e" stroke="#1e1e1e" stroke-width="0.15">500−599</text>
<line x1="573.40" y1="375.20" x2="573.40" y2="378.20" stroke="#000" stroke-width="1.0" stroke-linecap="butt"/>
<text transform="translate(577.00,383.60) rotate(-45)" text-anchor="end" font-size="10.0" fill="#1e1e1e" stroke="#1e1e1e" stroke-width="0.15">600−699</text>
<line x1="584.80" y1="375.20" x2="584.80" y2="378.20" stroke="#000" stroke-width="1.0" stroke-linecap="butt"/>
<text transform="translate(588.40,383.60) rotate(-45)" text-anchor="end" font-size="10.0" fill="#1e1e1e" stroke="#1e1e1e" stroke-width="0.15">700−799</text>
<line x1="596.20" y1="375.20" x2="596.20" y2="378.20" stroke="#000" stroke-width="1.0" stroke-linecap="butt"/>
<text transform="translate(599.80,383.60) rotate(-45)" text-anchor="end" font-size="10.0" fill="#1e1e1e" stroke="#1e1e1e" stroke-width="0.15">800−899</text>
<line x1="607.60" y1="375.20" x2="607.60" y2="378.20" stroke="#000" stroke-width="1.0" stroke-linecap="butt"/>
<text transform="translate(611.20,383.60) rotate(-45)" text-anchor="end" font-size="10.0" fill="#1e1e1e" stroke="#1e1e1e" stroke-width="0.15">900−999</text>
<line x1="619.00" y1="375.20" x2="619.00" y2="378.20" stroke="#000" stroke-width="1.0" stroke-linecap="butt"/>
<text transform="translate(622.60,383.60) rotate(-45)" text-anchor="end" font-size="10.0" fill="#1e1e1e" stroke="#1e1e1e" stroke-width="0.15">1000−1099</text>
<line x1="630.40" y1="375.20" x2="630.40" y2="378.20" stroke="#000" stroke-width="1.0" stroke-linecap="butt"/>
<text transform="translate(634.00,383.60) rotate(-45)" text-anchor="end" font-size="10.0" fill="#1e1e1e" stroke="#1e1e1e" stroke-width="0.15">1100−1199</text>
<line x1="641.80" y1="375.20" x2="641.80" y2="378.20" stroke="#000" stroke-width="1.0" stroke-linecap="butt"/>
<text transform="translate(645.40,383.60) rotate(-45)" text-anchor="end" font-size="10.0" fill="#1e1e1e" stroke="#1e1e1e" stroke-width="0.15">1200−1299</text>
<line x1="653.20" y1="375.20" x2="653.20" y2="378.20" stroke="#000" stroke-width="1.0" stroke-linecap="butt"/>
<text transform="translate(656.80,383.60) rotate(-45)" text-anchor="end" font-size="10.0" fill="#1e1e1e" stroke="#1e1e1e" stroke-width="0.15">1300−1399</text>
<line x1="664.60" y1="375.20" x2="664.60" y2="378.20" stroke="#000" stroke-width="1.0" stroke-linecap="butt"/>
<text transform="translate(668.20,383.60) rotate(-45)" text-anchor="end" font-size="10.0" fill="#1e1e1e" stroke="#1e1e1e" stroke-width="0.15">1400−1499</text>
<line x1="676.00" y1="375.20" x2="676.00" y2="378.20" stroke="#000" stroke-width="1.0" stroke-linecap="butt"/>
<text transform="translate(679.60,383.60) rotate(-45)" text-anchor="end" font-size="10.0" fill="#1e1e1e" stroke="#1e1e1e" stroke-width="0.15">&gt;=1500</text>
<text x="488.00" y="308.30" text-anchor="middle" font-size="10.2" font-weight="normal" fill="#1e1e1e" stroke="#1e1e1e" stroke-width="0.15" transform="rotate(-90 488.00 308.30)">Count</text>
<text x="593.00" y="432.10" text-anchor="middle" font-size="10.2" font-weight="normal" fill="#1e1e1e" stroke="#1e1e1e" stroke-width="0.15">circRNA Length Bin</text>
<text x="3.00" y="471.00" text-anchor="start" font-size="12.5" font-weight="bold" fill="#1e1e1e" stroke="#1e1e1e" stroke-width="0.15">g</text>
<rect x="52.05" y="500.53" width="29.70" height="112.57" fill="#e6b4b4"/>
<rect x="52.05" y="489.40" width="29.70" height="11.13" fill="#e6a97c"/>
<rect x="85.55" y="489.40" width="29.70" height="123.70" fill="#e6b4b4"/>
<rect x="119.05" y="490.39" width="29.70" height="122.71" fill="#e6b4b4"/>
<rect x="119.05" y="489.40" width="29.70" height="0.99" fill="#e6a97c"/>
<rect x="152.55" y="494.97" width="29.70" height="118.13" fill="#e6b4b4"/>
<rect x="152.55" y="489.40" width="29.70" height="5.57" fill="#9fd89a"/>
<rect x="186.05" y="489.40" width="29.70" height="123.70" fill="#e6b4b4"/>
<path d="M47.20,483.20 L47.20,618.80 L221.00,618.80" stroke="#000" stroke-width="1.5" fill="none" stroke-linejoin="round" stroke-linecap="butt"/>
<line x1="44.40" y1="613.10" x2="47.20" y2="613.10" stroke="#000" stroke-width="1.0" stroke-linecap="butt"/>
<text x="41.70" y="616.48" text-anchor="end" font-size="10.0" font-weight="normal" fill="#1e1e1e" stroke="#1e1e1e" stroke-width="0.15">0.00</text>
<line x1="44.40" y1="582.18" x2="47.20" y2="582.18" stroke="#000" stroke-width="1.0" stroke-linecap="butt"/>
<text x="41.70" y="585.56" text-anchor="end" font-size="10.0" font-weight="normal" fill="#1e1e1e" stroke="#1e1e1e" stroke-width="0.15">0.25</text>
<line x1="44.40" y1="551.25" x2="47.20" y2="551.25" stroke="#000" stroke-width="1.0" stroke-linecap="butt"/>
<text x="41.70" y="554.63" text-anchor="end" font-size="10.0" font-weight="normal" fill="#1e1e1e" stroke="#1e1e1e" stroke-width="0.15">0.50</text>
<line x1="44.40" y1="520.33" x2="47.20" y2="520.33" stroke="#000" stroke-width="1.0" stroke-linecap="butt"/>
<text x="41.70" y="523.71" text-anchor="end" font-size="10.0" font-weight="normal" fill="#1e1e1e" stroke="#1e1e1e" stroke-width="0.15">0.75</text>
<line x1="44.40" y1="489.40" x2="47.20" y2="489.40" stroke="#000" stroke-width="1.0" stroke-linecap="butt"/>
<text x="41.70" y="492.78" text-anchor="end" font-size="10.0" font-weight="normal" fill="#1e1e1e" stroke="#1e1e1e" stroke-width="0.15">1.00</text>
<line x1="66.90" y1="618.80" x2="66.90" y2="621.80" stroke="#000" stroke-width="1.0" stroke-linecap="butt"/>
<text transform="translate(70.90,627.80) rotate(-45)" text-anchor="end" font-size="10.0" fill="#1e1e1e" stroke="#1e1e1e" stroke-width="0.15">human</text>
<line x1="100.40" y1="618.80" x2="100.40" y2="621.80" stroke="#000" stroke-width="1.0" stroke-linecap="butt"/>
<text transform="translate(104.40,627.80) rotate(-45)" text-anchor="end" font-size="10.0" fill="#1e1e1e" stroke="#1e1e1e" stroke-width="0.15">rhesus</text>
<line x1="133.90" y1="618.80" x2="133.90" y2="621.80" stroke="#000" stroke-width="1.0" stroke-linecap="butt"/>
<text transform="translate(137.90,627.80) rotate(-45)" text-anchor="end" font-size="10.0" fill="#1e1e1e" stroke="#1e1e1e" stroke-width="0.15">opossum</text>
<line x1="167.40" y1="618.80" x2="167.40" y2="621.80" stroke="#000" stroke-width="1.0" stroke-linecap="butt"/>
<text transform="translate(171.40,627.80) rotate(-45)" text-anchor="end" font-size="10.0" fill="#1e1e1e" stroke="#1e1e1e" stroke-width="0.15">mouse</text>
<line x1="200.90" y1="618.80" x2="200.90" y2="621.80" stroke="#000" stroke-width="1.0" stroke-linecap="butt"/>
<text transform="translate(204.90,627.80) rotate(-45)" text-anchor="end" font-size="10.0" fill="#1e1e1e" stroke="#1e1e1e" stroke-width="0.15">rat</text>
<text x="18.40" y="552.80" text-anchor="middle" font-size="10.0" font-weight="normal" fill="#1e1e1e" stroke="#1e1e1e" stroke-width="0.15" transform="rotate(-90 18.40 552.80)">Frequency</text>
<rect x="14.40" y="663.00" width="17.30" height="16.60" fill="#9fd89a"/>
<text x="37.60" y="674.88" text-anchor="start" font-size="10.0" font-weight="normal" fill="#1e1e1e" stroke="#1e1e1e" stroke-width="0.15">other</text>
<rect x="76.20" y="663.00" width="17.30" height="16.60" fill="#e6a97c"/>
<text x="99.30" y="674.88" text-anchor="start" font-size="10.0" font-weight="normal" fill="#1e1e1e" stroke="#1e1e1e" stroke-width="0.15">lncRNA</text>
<rect x="149.30" y="663.00" width="17.30" height="16.60" fill="#e6b4b4"/>
<text x="172.50" y="674.88" text-anchor="start" font-size="10.0" font-weight="normal" fill="#1e1e1e" stroke="#1e1e1e" stroke-width="0.15">protein_coding</text>
<text x="268.60" y="472.90" text-anchor="start" font-size="12.5" font-weight="bold" fill="#1e1e1e" stroke="#1e1e1e" stroke-width="0.15">h</text>
<line x1="295.00" y1="626.78" x2="496.30" y2="626.78" stroke="#ebebeb" stroke-width="0.8" stroke-linecap="butt"/>
<line x1="295.00" y1="596.54" x2="496.30" y2="596.54" stroke="#ebebeb" stroke-width="0.8" stroke-linecap="butt"/>
<line x1="295.00" y1="566.30" x2="496.30" y2="566.30" stroke="#ebebeb" stroke-width="0.8" stroke-linecap="butt"/>
<line x1="295.00" y1="536.06" x2="496.30" y2="536.06" stroke="#ebebeb" stroke-width="0.8" stroke-linecap="butt"/>
<line x1="295.00" y1="505.82" x2="496.30" y2="505.82" stroke="#ebebeb" stroke-width="0.8" stroke-linecap="butt"/>
<line x1="295.00" y1="611.66" x2="496.30" y2="611.66" stroke="#e6e6e6" stroke-width="1.1" stroke-linecap="butt"/>
<line x1="295.00" y1="581.42" x2="496.30" y2="581.42" stroke="#e6e6e6" stroke-width="1.1" stroke-linecap="butt"/>
<line x1="295.00" y1="551.18" x2="496.30" y2="551.18" stroke="#e6e6e6" stroke-width="1.1" stroke-linecap="butt"/>
<line x1="295.00" y1="520.94" x2="496.30" y2="520.94" stroke="#e6e6e6" stroke-width="1.1" stroke-linecap="butt"/>
<line x1="295.00" y1="490.70" x2="496.30" y2="490.70" stroke="#e6e6e6" stroke-width="1.1" stroke-linecap="butt"/>
<line x1="349.40" y1="483.40" x2="349.40" y2="649.30" stroke="#ebebeb" stroke-width="1.1" stroke-linecap="butt"/>
<line x1="441.40" y1="483.40" x2="441.40" y2="649.30" stroke="#ebebeb" stroke-width="1.1" stroke-linecap="butt"/>
<line x1="349.40" y1="627.10" x2="349.40" y2="637.60" stroke="#333" stroke-width="1.0" stroke-linecap="butt"/>
<line x1="349.40" y1="608.00" x2="349.40" y2="579.40" stroke="#333" stroke-width="1.0" stroke-linecap="butt"/>
<rect x="315.20" y="608.00" width="69.00" height="19.10" fill="#e0a345" stroke="#6a4a22" stroke-width="1.1"/>
<line x1="315.20" y1="619.80" x2="384.20" y2="619.80" stroke="#6a4a22" stroke-width="1.5" stroke-linecap="butt"/>
<circle cx="349.40" cy="525.20" r="1.45" fill="#333"/>
<circle cx="349.40" cy="527.10" r="1.45" fill="#333"/>
<circle cx="349.40" cy="529.00" r="1.45" fill="#333"/>
<circle cx="349.40" cy="530.90" r="1.45" fill="#333"/>
<circle cx="349.40" cy="532.80" r="1.45" fill="#333"/>
<circle cx="349.40" cy="534.70" r="1.45" fill="#333"/>
<circle cx="349.40" cy="536.60" r="1.45" fill="#333"/>
<circle cx="349.40" cy="538.50" r="1.45" fill="#333"/>
<circle cx="349.40" cy="540.40" r="1.45" fill="#333"/>
<circle cx="349.40" cy="542.30" r="1.45" fill="#333"/>
<circle cx="349.40" cy="544.20" r="1.45" fill="#333"/>
<circle cx="349.40" cy="546.10" r="1.45" fill="#333"/>
<circle cx="349.40" cy="547.10" r="1.45" fill="#333"/>
<circle cx="349.40" cy="548.10" r="1.45" fill="#333"/>
<circle cx="349.40" cy="549.10" r="1.45" fill="#333"/>
<circle cx="349.40" cy="550.10" r="1.45" fill="#333"/>
<circle cx="349.40" cy="551.10" r="1.45" fill="#333"/>
<circle cx="349.40" cy="552.10" r="1.45" fill="#333"/>
<circle cx="349.40" cy="553.10" r="1.45" fill="#333"/>
<circle cx="349.40" cy="554.10" r="1.45" fill="#333"/>
<circle cx="349.40" cy="555.10" r="1.45" fill="#333"/>
<circle cx="349.40" cy="556.10" r="1.45" fill="#333"/>
<circle cx="349.40" cy="557.10" r="1.45" fill="#333"/>
<circle cx="349.40" cy="558.10" r="1.45" fill="#333"/>
<circle cx="349.40" cy="559.10" r="1.45" fill="#333"/>
<circle cx="349.40" cy="560.10" r="1.45" fill="#333"/>
<circle cx="349.40" cy="561.10" r="1.45" fill="#333"/>
<circle cx="349.40" cy="562.10" r="1.45" fill="#333"/>
<circle cx="349.40" cy="563.10" r="1.45" fill="#333"/>
<circle cx="349.40" cy="564.10" r="1.45" fill="#333"/>
<circle cx="349.40" cy="565.10" r="1.45" fill="#333"/>
<circle cx="349.40" cy="566.10" r="1.45" fill="#333"/>
<circle cx="349.40" cy="567.10" r="1.45" fill="#333"/>
<circle cx="349.40" cy="568.10" r="1.45" fill="#333"/>
<circle cx="349.40" cy="569.10" r="1.45" fill="#333"/>
<circle cx="349.40" cy="570.10" r="1.45" fill="#333"/>
<circle cx="349.40" cy="571.10" r="1.45" fill="#333"/>
<circle cx="349.40" cy="572.10" r="1.45" fill="#333"/>
<circle cx="349.40" cy="573.10" r="1.45" fill="#333"/>
<circle cx="349.40" cy="574.10" r="1.45" fill="#333"/>
<circle cx="349.40" cy="575.10" r="1.45" fill="#333"/>
<circle cx="349.40" cy="576.10" r="1.45" fill="#333"/>
<circle cx="349.40" cy="577.10" r="1.45" fill="#333"/>
<circle cx="349.40" cy="578.10" r="1.45" fill="#333"/>
<circle cx="349.40" cy="486.60" r="1.5" fill="#333"/>
<circle cx="349.40" cy="491.50" r="1.5" fill="#333"/>
<circle cx="349.40" cy="498.20" r="1.5" fill="#333"/>
<circle cx="349.40" cy="502.60" r="1.5" fill="#333"/>
<circle cx="349.40" cy="504.80" r="1.5" fill="#333"/>
<circle cx="349.40" cy="507.00" r="1.5" fill="#333"/>
<circle cx="349.40" cy="509.20" r="1.5" fill="#333"/>
<circle cx="349.40" cy="512.20" r="1.5" fill="#333"/>
<circle cx="349.40" cy="516.40" r="1.5" fill="#333"/>
<circle cx="349.40" cy="521.80" r="1.5" fill="#333"/>
<line x1="441.40" y1="622.70" x2="441.40" y2="641.90" stroke="#333" stroke-width="1.0" stroke-linecap="butt"/>
<line x1="441.40" y1="509.20" x2="441.40" y2="483.40" stroke="#333" stroke-width="1.0" stroke-linecap="butt"/>
<rect x="407.00" y="509.20" width="68.90" height="113.50" fill="#5f7fa8" stroke="#2a3a4f" stroke-width="1.1"/>
<line x1="407.00" y1="589.40" x2="475.90" y2="589.40" stroke="#2a3a4f" stroke-width="1.3" stroke-linecap="butt"/>
<rect x="295.00" y="483.40" width="201.30" height="165.90" fill="none" stroke="#6e6e6e" stroke-width="1.4"/>
<line x1="292.20" y1="641.90" x2="294.40" y2="641.90" stroke="#333" stroke-width="1.0" stroke-linecap="butt"/>
<text x="286.90" y="645.48" text-anchor="end" font-size="10.0" font-weight="normal" fill="#4d4d4d" stroke="#4d4d4d" stroke-width="0.15">0</text>
<line x1="292.20" y1="611.66" x2="294.40" y2="611.66" stroke="#333" stroke-width="1.0" stroke-linecap="butt"/>
<text x="290.80" y="615.24" text-anchor="end" font-size="10.0" font-weight="normal" fill="#4d4d4d" stroke="#4d4d4d" stroke-width="0.15">1000</text>
<line x1="292.20" y1="581.42" x2="294.40" y2="581.42" stroke="#333" stroke-width="1.0" stroke-linecap="butt"/>
<text x="290.80" y="585.00" text-anchor="end" font-size="10.0" font-weight="normal" fill="#4d4d4d" stroke="#4d4d4d" stroke-width="0.15">2000</text>
<line x1="292.20" y1="551.18" x2="294.40" y2="551.18" stroke="#333" stroke-width="1.0" stroke-linecap="butt"/>
<text x="290.80" y="554.76" text-anchor="end" font-size="10.0" font-weight="normal" fill="#4d4d4d" stroke="#4d4d4d" stroke-width="0.15">3000</text>
<line x1="292.20" y1="520.94" x2="294.40" y2="520.94" stroke="#333" stroke-width="1.0" stroke-linecap="butt"/>
<text x="290.80" y="524.52" text-anchor="end" font-size="10.0" font-weight="normal" fill="#4d4d4d" stroke="#4d4d4d" stroke-width="0.15">4000</text>
<line x1="292.20" y1="490.70" x2="294.40" y2="490.70" stroke="#333" stroke-width="1.0" stroke-linecap="butt"/>
<text x="290.80" y="494.28" text-anchor="end" font-size="10.0" font-weight="normal" fill="#4d4d4d" stroke="#4d4d4d" stroke-width="0.15">5000</text>
<line x1="349.40" y1="649.90" x2="349.40" y2="652.30" stroke="#333" stroke-width="1.0" stroke-linecap="butt"/>
<line x1="441.40" y1="649.90" x2="441.40" y2="652.30" stroke="#333" stroke-width="1.0" stroke-linecap="butt"/>
<text x="342.40" y="664.10" text-anchor="middle" font-size="10.0" font-weight="normal" fill="#4d4d4d" stroke="#4d4d4d" stroke-width="0.15">Forming intronic circRNA</text>
<text x="448.70" y="664.10" text-anchor="middle" font-size="10.0" font-weight="normal" fill="#4d4d4d" stroke="#4d4d4d" stroke-width="0.15">Non−forming intron</text>
<text x="265.40" y="566.20" text-anchor="middle" font-size="10.2" font-weight="normal" fill="#1e1e1e" stroke="#1e1e1e" stroke-width="0.15" transform="rotate(-90 265.40 566.20)">Intron length (nt)</text>
</svg>
</body></html>
